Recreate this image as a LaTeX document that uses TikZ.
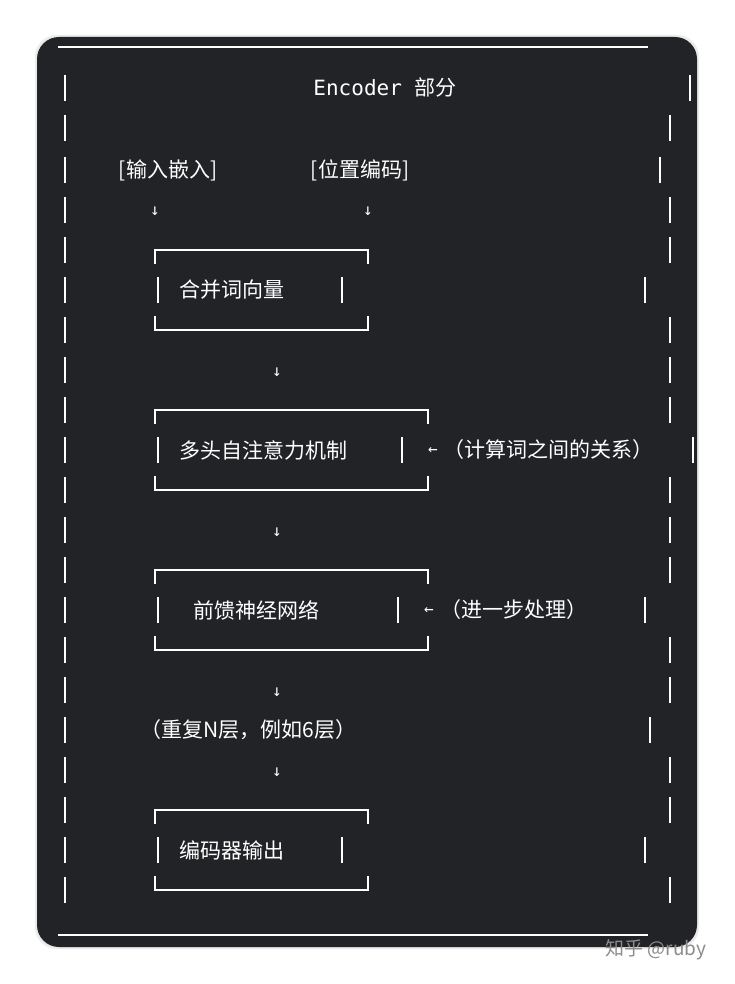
\documentclass[tikz,border=0pt]{standalone}
\usepackage{fontspec}
\setmainfont{Noto Sans CJK SC}
\newfontfamily\monof{DejaVu Sans Mono}
\begin{document}
\begin{tikzpicture}[x=1pt,y=-1pt,
  ln/.style={white,line width=1.6pt},
  bar/.style={white,line width=1.6pt},
  tx/.style={text=white,font=\fontsize{21}{24}\selectfont,inner sep=0pt},
  ar/.style={text=white,font=\monof\fontsize{16}{18}\selectfont,inner sep=0pt}]
\useasboundingbox (0,0) rectangle (734,984);
\fill[white] (0,0) rectangle (734,984);
\fill[black!8,rounded corners=22pt] (35,35) rectangle (699,949);
\fill[fill={rgb,255:red,34;green,35;blue,38},rounded corners=22pt] (37,37) rectangle (697,947);
% outer top/bottom
\draw[ln] (58,47) -- (648,47);
\draw[ln] (58,935) -- (648,935);
% left bars
\foreach \y in {88,128,170,210,250,290,330,370,410,450,490,530,570,610,650,690,730,770,810,850,890}
  \draw[bar] (65,\y-13) -- (65,\y+13);
% right bars
\foreach \x/\y in {690/88,670/128,660/170,670/210,670/250,645/290,670/330,670/370,670/410,693/450,670/490,670/530,670/570,645/610,670/650,670/690,650/730,670/770,670/810,645/850,670/890}
  \draw[bar] (\x,\y-13) -- (\x,\y+13);
% title
\node[tx,font=\monof\fontsize{21}{24}\selectfont] (title) at (385,88) {Encoder \fontspec{Noto Sans CJK SC}部分};
\node[tx] (in1) at (168,170) {[输入嵌入]};
\node[tx] (in2) at (360,170) {[位置编码]};
\node[ar] (a1) at (155,211) {↓};
\node[ar] (a2) at (368,211) {↓};
% boxes
\newcommand{\asciibox}[5]{% x1 x2 ytop ybot innerbar
  \draw[ln] (#1,#3+14) -- (#1,#3) -- (#2,#3) -- (#2,#3+14);
  \draw[ln] (#1,#4-14) -- (#1,#4) -- (#2,#4) -- (#2,#4-14);
  \draw[bar] (158,{(#3+#4)/2-13}) -- (158,{(#3+#4)/2+13});
  \draw[bar] (#5,{(#3+#4)/2-13}) -- (#5,{(#3+#4)/2+13});}
\asciibox{155}{368}{250}{330}{342}
\node[tx,anchor=west] (b1) at (179,290) {合并词向量};
\node[ar] (a3) at (277,372) {↓};
\asciibox{155}{428}{410}{490}{402}
\node[tx,anchor=west] (b2) at (179,450) {多头自注意力机制};
\node[ar] (l1) at (433,451) {←};
\node[tx,anchor=west] (c1) at (443,450) {（计算词之间的关系）};
\node[ar] (a4) at (277,532) {↓};
\asciibox{155}{428}{570}{650}{398}
\node[tx,anchor=west] (b3) at (193,610) {前馈神经网络};
\node[ar] (l2) at (429,611) {←};
\node[tx,anchor=west] (c2) at (440,610) {（进一步处理）};
\node[ar] (a5) at (277,692) {↓};
\node[tx,anchor=west] (rep) at (140,730) {（重复N层，例如6层）};
\node[ar] (a6) at (277,772) {↓};
\asciibox{155}{368}{810}{890}{342}
\node[tx,anchor=west] (b4) at (179,850) {编码器输出};
\node[text=black!45,font=\fontsize{19}{22}\selectfont,inner sep=0pt] (wm) at (656,950) {知乎 @ruby};
\end{tikzpicture}
\end{document}
